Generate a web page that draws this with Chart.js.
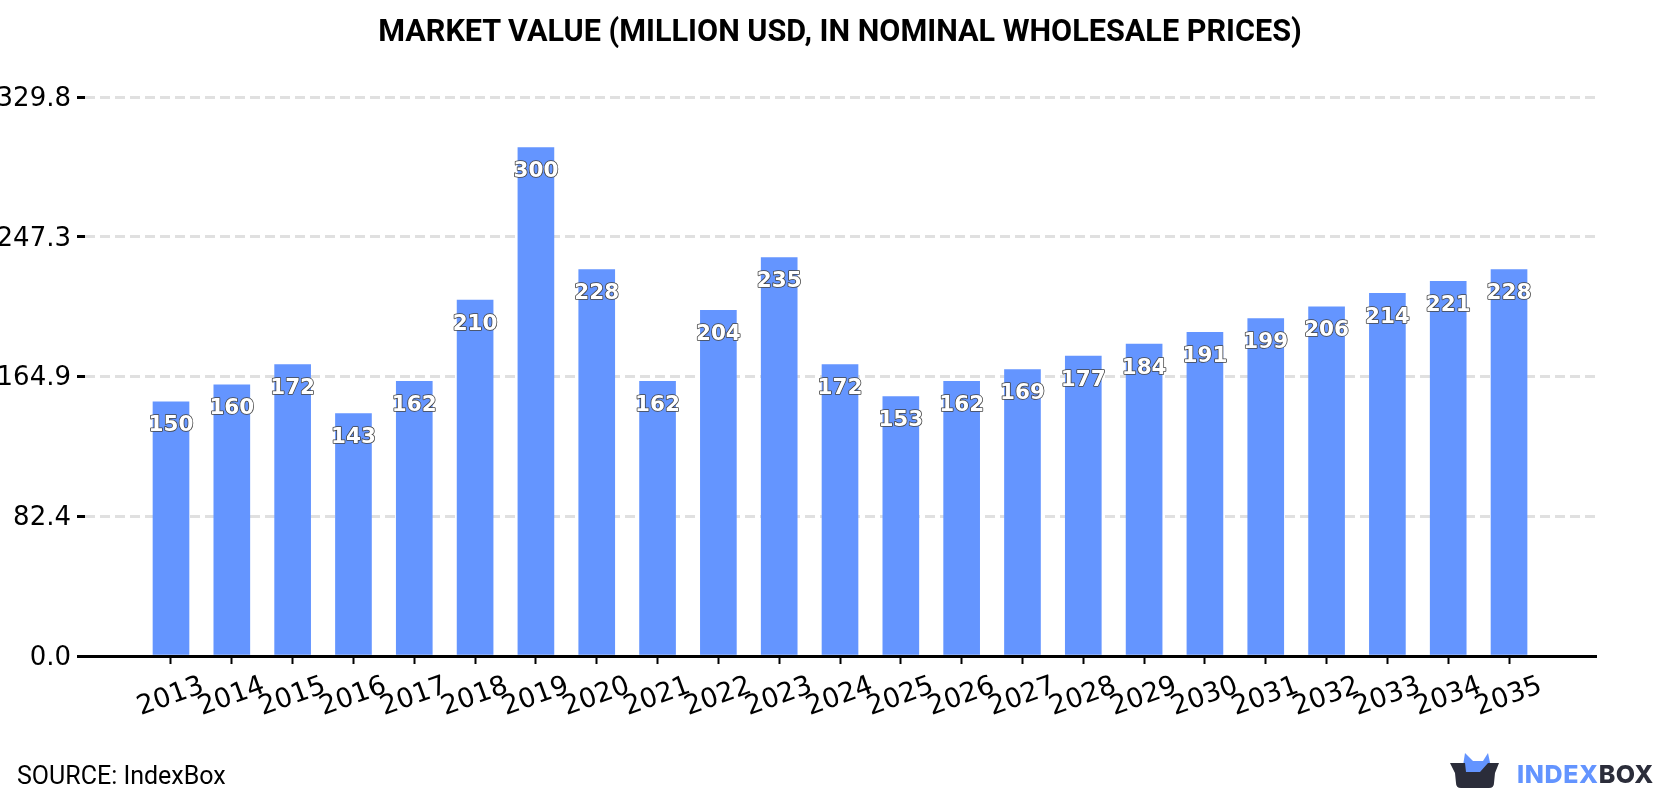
<!DOCTYPE html>
<html>
<head>
<meta charset="utf-8">
<title>Market value</title>
<script src="https://cdn.jsdelivr.net/npm/chart.js@4"></script>
<style>
  html, body { margin: 0; padding: 0; background: #fff; overflow: hidden; }
  #wrap { position: relative; width: 1680px; height: 800px; }
  #heading { position: absolute; left: 0; top: 13px; width: 1680px; text-align: center; font: bold 30.6px Roboto, sans-serif; color: #000; }
  #source { position: absolute; left: 17px; top: 761px; font: 25px Roboto, sans-serif; color: #000; }
  #logo { position: absolute; left: 1450px; top: 750px; }
</style>
</head>
<body>
<div id="wrap">
  <canvas id="chart" width="1680" height="800"></canvas>
  <div id="heading"></div>
  <div id="source">SOURCE: IndexBox</div>
  <svg id="logo" width="210" height="45" viewBox="0 0 210 45">
    <path d="M12 22 L15 3 L23 11 L33 11 L38 3 L42 22 Z" fill="#6394ff"/>
    <path d="M0 13 L15 13 L16 22 L30 22 L38 13 L49 13 L45 23 L44 33 Q44 38 39 38 L11 38 Q6 38 6 33 L5 23 Z" fill="#2b2d3a"/>
    <text x="67" y="33" font-family="Inter, Roboto, sans-serif" font-weight="800" font-size="25" letter-spacing="0.6"><tspan fill="#6394ff">INDEX</tspan><tspan fill="#2b2d3a">BOX</tspan></text>
  </svg>
</div>

<script>
// valores del mercado por año
const years = [2013, 2014, 2015, 2016, 2017, 2018, 2019, 2020, 2021, 2022, 2023, 2024,
               2025, 2026, 2027, 2028, 2029, 2030, 2031, 2032, 2033, 2034, 2035];
const values = [150, 160, 172, 143, 162, 210, 300, 228, 162, 204, 235, 172,
                153, 162, 169, 177, 184, 191, 199, 206, 214, 221, 228];
const yTicks = [0, 82.4, 164.9, 247.3, 329.8];
const titleText = "MARKET VALUE (MILLION USD, IN NOMINAL WHOLESALE PRICES)";

document.getElementById("heading").textContent = titleText;

/* ------------------ etiquetas blancas con contorno sobre cada barra ------------------ */
const barLabels = {
  id: "barLabels",
  afterDatasetsDraw(chart) {
    const ctx = chart.ctx;
    const meta = chart.getDatasetMeta(0);
    ctx.save();
    ctx.font = "bold 21.5px 'DejaVu Sans'";
    ctx.textAlign = "center";
    ctx.textBaseline = "middle";
    ctx.lineJoin = "round";
    meta.data.forEach((bar, i) => {
      const y = bar.y + 24;
      ctx.lineWidth = 1.6;
      ctx.strokeStyle = "#444";
      ctx.strokeText(values[i], bar.x, y);
      ctx.fillStyle = "#fff";
      ctx.fillText(values[i], bar.x, y);
    });
    ctx.restore();
  }
};

new Chart(document.getElementById("chart").getContext("2d"), {
  type: "bar",
  plugins: [barLabels],
  data: {
    datasets: [{
      data: years.map((y, i) => ({ x: y, y: values[i] })),
      backgroundColor: "#6495ff",
      barThickness: 36
    }]
  },
  options: {
    responsive: false,
    animation: false,
    layout: { padding: { top: 97, right: 84, bottom: 0, left: 0 } },
    plugins: {
      legend: { display: false },
      tooltip: { enabled: false }
    },
    scales: {
      x: {
        type: "linear",
        offset: false,
        min: 2011.586,
        max: 2036.43,
        afterBuildTicks: scale => { scale.ticks = years.map(v => ({ value: v })); },
        afterFit: scale => { scale.height = 144; },
        border: { color: "#000", width: 3 },
        grid: { offset: false, drawOnChartArea: false, color: "#000", tickColor: "#000", tickLength: 8, tickWidth: 2 },
        ticks: {
          autoSkip: false,
          minRotation: 20,
          maxRotation: 20,
          labelOffset: 32,
          padding: 6,
          color: "#000",
          font: { family: "DejaVu Sans", size: 27 },
          callback: v => String(v)
        }
      },
      y: {
        min: 0,
        max: 329.8,
        afterBuildTicks: scale => { scale.ticks = yTicks.map(v => ({ value: v })); },
        afterFit: scale => { scale.width = 85; },
        border: { display: false, dash: [10, 5] },
        grid: {
          color: "#e0e0e0",
          lineWidth: 3,
          tickColor: "#000",
          tickLength: 8,
          tickWidth: 3
        },
        ticks: {
          padding: 6,
          labelOffset: 2,
          color: "#000",
          font: { family: "DejaVu Sans", size: 26 },
          callback: v => v.toFixed(1)
        }
      }
    }
  }
});
</script>
</body>
</html>
